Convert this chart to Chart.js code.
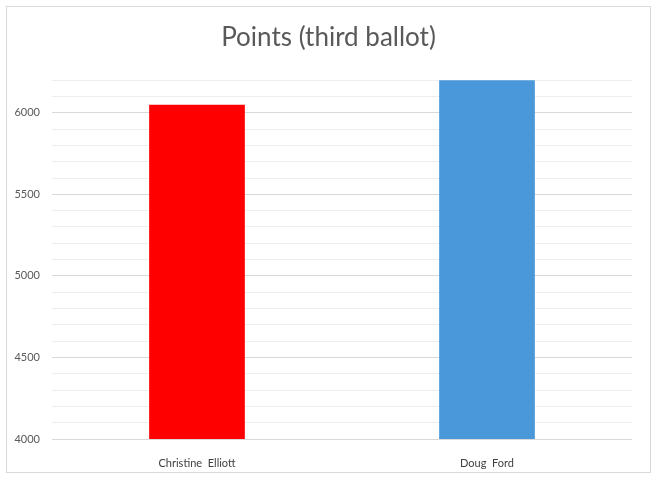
<!DOCTYPE html>
<html>
<head>
<meta charset="utf-8">
<script src="https://cdn.jsdelivr.net/npm/chart.js@4.4.1/dist/chart.umd.min.js"></script>
<style>
  html, body { margin: 0; padding: 0; background: #fff; }
  #wrap { width: 657px; height: 482px; position: relative; }
</style>
</head>
<body>
<div id="wrap"><canvas id="chart"></canvas></div>
<script>
const candidates = ["Christine  Elliott", "Doug  Ford"];
const points = [6049.38, 6202.62];
const barColors = ["#ff0000", "#4a98d9"];
const yMin = 4000;
const yMax = 6200;

// white background + thin grey frame around the whole chart
const frame = {
  id: "frame",
  beforeDraw(chart) {
    const ctx = chart.ctx;
    ctx.save();
    ctx.fillStyle = "#fff";
    ctx.fillRect(0, 0, chart.width, chart.height);
    ctx.strokeStyle = "#d9d9d9";
    ctx.lineWidth = 1;
    ctx.strokeRect(6.5, 6.5, chart.width - 13, chart.height - 16);
    ctx.restore();
  },
};

new Chart(document.getElementById("chart"), {
  type: "bar",
  data: {
    labels: candidates,
    datasets: [{
      data: points,
      backgroundColor: barColors,
      barPercentage: 0.33,
      categoryPercentage: 1,
    }],
  },
  options: {
    responsive: true,
    maintainAspectRatio: false,
    animation: false,
    layout: { padding: 0 },
    plugins: {
      legend: { display: false },
      tooltip: { enabled: false },
      title: {
        display: true,
        text: "Points (third ballot)",
        color: "#595959",
        font: { family: "Lato", size: 26, weight: "normal" },
        padding: { top: 22, bottom: 27 },
      },
    },
    scales: {
      x: {
        grid: { display: false },
        border: { display: false },
        ticks: { color: "#404040", font: { family: "Lato", size: 11 }, padding: 10 },
        afterFit(scale) { scale.height = 43; },
      },
      y: {
        min: yMin,
        max: yMax,
        border: { display: false },
        grid: {
          drawTicks: false,
          color: (c) => (c.tick && c.tick.value % 500 === 0 ? "#d9d9d9" : "#eeeeee"),
        },
        ticks: {
          stepSize: 100,
          color: "#595959",
          font: { family: "Lato", size: 11 },
          padding: 12,
          callback: (v) => (v % 500 === 0 ? v : ""),
        },
        afterFit(scale) { scale.width = 52; },
      },
      // empty right-hand axis, only keeps the plot clear of the right edge
      spacer: {
        type: "linear",
        position: "right",
        grid: { display: false },
        border: { display: false },
        ticks: { display: false },
        afterFit(scale) { scale.width = 25; },
      },
    },
  },
  plugins: [frame],
});
</script>
</body>
</html>
